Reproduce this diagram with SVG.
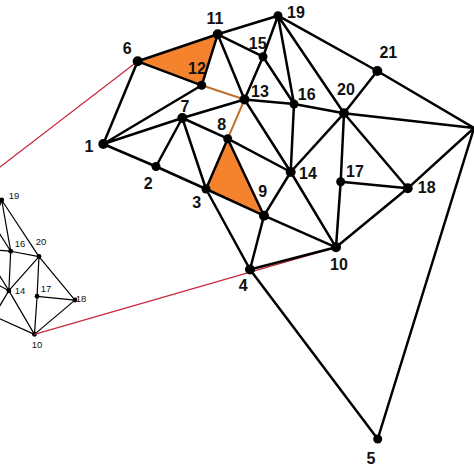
<svg xmlns="http://www.w3.org/2000/svg" width="474" height="474" viewBox="0 0 474 474">
<defs>
<style>
.e{stroke:#000;stroke-width:2.5;fill:none;stroke-linecap:round}
.ie{stroke:#000;stroke-width:1.2;fill:none;vector-effect:non-scaling-stroke}
.o{stroke:#c07028;stroke-width:2;fill:none}
.r{stroke:#c8283c;stroke-width:1.2;fill:none}
.n{fill:#000}
.t{font-family:"Liberation Sans",Arial,sans-serif;font-weight:bold;font-size:16px;fill:#111;text-anchor:middle}
.it{font-family:"Liberation Sans",Arial,sans-serif;font-size:9.5px;fill:#111;text-anchor:middle}
.f{fill:#f5822d;stroke:none}
</style>
</defs>
<rect width="474" height="474" fill="#fff"/>
<g id="fills">
<polygon class="f" points="137.7,61.3 217.7,34.3 201.7,85.3"/>
<polygon class="f" points="227.7,138.7 206,189 264,215.7"/>
</g>
<g id="inset-connectors" transform="matrix(0.565 0 0 0.58 -155.4 190.9)">
<path class="ie" d="M278,15.7L263,56.7 M278,15.7L294,104 M278,15.7L344,113.3 M278,15.7L217.7,34.3 M263,56.7L294,104 M245,100L294,104 M294,104L344,113.3 M294,104L290.7,172 M245,100L290.7,172 M227.7,138.7L290.7,172 M264,215.7L290.7,172 M344,113.3L290.7,172 M344,113.3L340.7,181.7 M344,113.3L407.7,188.3 M340.7,181.7L407.7,188.3 M290.7,172L336,247.3 M340.7,181.7L336,247.3 M264,215.7L336,247.3 M407.7,188.3L336,247.3"/>
<g class="n">
<circle cx="278" cy="15.7" r="4.3"/>
<circle cx="294" cy="104" r="4.3"/>
<circle cx="344" cy="113.3" r="4.3"/>
<circle cx="290.7" cy="172" r="4.3"/>
<circle cx="340.7" cy="181.7" r="4.3"/>
<circle cx="407.7" cy="188.3" r="4.3"/>
<circle cx="336" cy="247.3" r="4.3"/>
</g>
</g>
<g id="inset-labels">
<text class="it" x="14" y="199">19</text>
<text class="it" x="20" y="247">16</text>
<text class="it" x="41" y="245">20</text>
<text class="it" x="20" y="294">14</text>
<text class="it" x="46" y="292">17</text>
<text class="it" x="81" y="302">18</text>
<text class="it" x="37" y="348">10</text>
</g>
<g id="connectors">
<path class="r" d="M137.7,61.3L0,167 M34.4,334.3L336,247.3"/>
<path class="o" d="M201.7,85.3L244.5,99.5 M244.5,99.5L227.7,138.7"/>
<path class="e" d="M137.7,61.3L217.7,34.3 M137.7,61.3L201.7,85.3 M217.7,34.3L201.7,85.3 M137.7,61.3L103.3,144 M103.3,144L201.7,85.3 M103.3,144L182.3,118 M103.3,144L156,166.5 M156,166.5L182.3,118 M156,166.5L206,189 M206,189L182.3,118 M182.3,118L227.7,138.7 M182.3,118L244.5,99.5 M217.7,34.3L244.5,99.5 M217.7,34.3L263,56.7 M217.7,34.3L278,15.7 M263,56.7L278,15.7 M263,56.7L244.5,99.5 M263,56.7L294,104 M278,15.7L294,104 M278,15.7L344,113.3 M278,15.7L377.3,71 M377.3,71L344,113.3 M377.3,71L474,128 M244.5,99.5L294,104 M294,104L344,113.3 M344,113.3L474,128 M294,104L290.7,172 M244.5,99.5L290.7,172 M227.7,138.7L290.7,172 M344,113.3L290.7,172 M344,113.3L340.7,181.7 M344,113.3L407.7,188.3 M340.7,181.7L407.7,188.3 M407.7,188.3L474,128 M340.7,181.7L336,247.3 M290.7,172L264,215.7 M290.7,172L336,247.3 M264,215.7L336,247.3 M227.7,138.7L264,215.7 M206,189L227.7,138.7 M206,189L264,215.7 M206,189L250,269.5 M264,215.7L250,269.5 M250,269.5L336,247.3 M336,247.3L407.7,188.3 M250,269.5L377.7,439 M377.7,439L474,128"/>
</g>
<g id="node-1"><circle class="n" cx="103.3" cy="144" r="5"/><text class="t" x="89" y="151.5">1</text></g>
<g id="node-2"><circle class="n" cx="156" cy="166.5" r="4.5"/><text class="t" x="148.3" y="188.5">2</text></g>
<g id="node-3"><circle class="n" cx="206" cy="189" r="4.5"/><text class="t" x="196.7" y="207.5">3</text></g>
<g id="node-4"><circle class="n" cx="250" cy="269.5" r="5"/><text class="t" x="243.3" y="291">4</text></g>
<g id="node-5"><circle class="n" cx="377.7" cy="439" r="4.5"/><text class="t" x="371" y="463.5">5</text></g>
<g id="node-6"><circle class="n" cx="137.7" cy="61.3" r="5"/><text class="t" x="127.3" y="53.5">6</text></g>
<g id="node-7"><circle class="n" cx="182.3" cy="118" r="5"/><text class="t" x="185" y="112">7</text></g>
<g id="node-8"><circle class="n" cx="227.7" cy="138.7" r="4.5"/><text class="t" x="221.7" y="130">8</text></g>
<g id="node-9"><circle class="n" cx="264" cy="215.7" r="5"/><text class="t" x="262.7" y="196.5">9</text></g>
<g id="node-10"><circle class="n" cx="336" cy="247.3" r="5"/><text class="t" x="339" y="270">10</text></g>
<g id="node-11"><circle class="n" cx="217.7" cy="34.3" r="5"/><text class="t" x="215" y="24">11</text></g>
<g id="node-12"><circle class="n" cx="201.7" cy="85.3" r="4.5"/><text class="t" x="197" y="74">12</text></g>
<g id="node-13"><circle class="n" cx="244.5" cy="99.5" r="5"/><text class="t" x="260" y="96.5">13</text></g>
<g id="node-14"><circle class="n" cx="290.7" cy="172" r="5"/><text class="t" x="308" y="178.5">14</text></g>
<g id="node-15"><circle class="n" cx="263" cy="56.7" r="4.5"/><text class="t" x="257.7" y="48.5">15</text></g>
<g id="node-16"><circle class="n" cx="294" cy="104" r="4.5"/><text class="t" x="306.7" y="100">16</text></g>
<g id="node-17"><circle class="n" cx="340.7" cy="181.7" r="4.5"/><text class="t" x="355" y="176.5">17</text></g>
<g id="node-18"><circle class="n" cx="407.7" cy="188.3" r="5"/><text class="t" x="426.7" y="192.5">18</text></g>
<g id="node-19"><circle class="n" cx="278" cy="15.7" r="4.5"/><text class="t" x="296" y="18">19</text></g>
<g id="node-20"><circle class="n" cx="344" cy="113.3" r="5"/><text class="t" x="346" y="94.5">20</text></g>
<g id="node-21"><circle class="n" cx="377.3" cy="71" r="5"/><text class="t" x="388.3" y="58">21</text></g>
</svg>
